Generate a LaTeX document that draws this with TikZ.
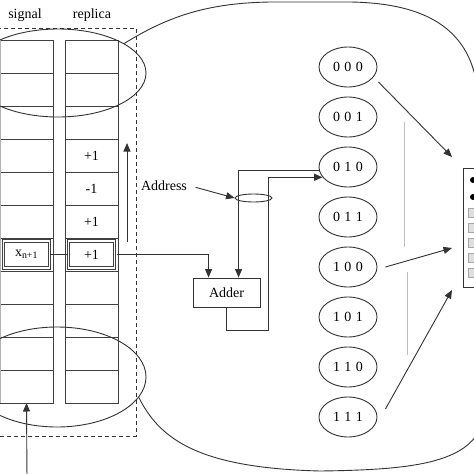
\documentclass[tikz,border=0pt]{standalone}
\usepackage{fontspec}
\setmainfont{Liberation Serif}
\usetikzlibrary{arrows.meta,calc,shapes.geometric}
\newcommand{\bg}{\hspace{4.5pt}}
\begin{document}
\begin{tikzpicture}[x=1pt,y=-1pt,
  line width=0.9pt, draw=black!80,
  every node/.style={font=\fontsize{14}{16}\selectfont},
  cell/.style={draw=black!75, minimum width=53pt, minimum height=33pt, inner sep=0pt, outer sep=0pt},
  dbox/.style={draw=black!75, double, double distance=1.4pt, minimum width=46pt, minimum height=27pt, inner sep=0pt},
  bitell/.style={draw=black!80, ellipse, minimum width=58pt, minimum height=40pt, inner sep=0pt},
  bigell/.style={draw=black!80, ellipse, inner sep=0pt},
  arr/.style={-{Triangle[length=8.5pt,width=7pt]}},
  cellnum/.style={inner sep=0pt}
]
\useasboundingbox (0,0) rectangle (474,474);
\clip (0,0) rectangle (474,474);
\fill[white] (0,0) rectangle (474,474);

% labels
\node (lsig) at (25,15) {signal};
\node (lrep) at (92,15) {replica};

% dashed frame
\draw[dash pattern=on 4pt off 3pt] (-5,28) rectangle (136,436);

% cells
\foreach \i in {1,...,11} {
  \node[cell] (s\i) at (26.5,{40+33*(\i-0.5)}) {};
  \node[cell] (r\i) at (91.5,{40+33*(\i-0.5)}) {};
}
\draw[gray!60, line width=2pt] (s1.north west) -- (s11.south west);

\node[cellnum] (n4) at (r4) {+1};
\node[cellnum] (n5) at (r5) {-1};
\node[cellnum] (n6) at (r6) {+1};
\node[dbox] (xn) at (s7) {x\textsubscript{n+1}};
\node[dbox] (rp) at (r7) {+1};
\draw (xn.east) -- (rp.west);

% group ellipses
\node[bigell, minimum width=176pt, minimum height=88pt] (topell) at (58,73) {};
\node[bigell, minimum width=178pt, minimum height=100pt] (botell) at (57,377) {};

% arrows by the columns
\coordinate (u1) at (127,242);
\coordinate (u2) at (127,143);
\draw[arr] (u1) -- (u2);
\coordinate (b0) at (27,480);
\draw[arr] (b0) -- (s11.south);

% adder
\node[draw=black!80, minimum width=67pt, minimum height=29pt, inner sep=0pt] (adder) at (226.5,292.5) {Adder};
\coordinate (a1) at ($(adder.north west)+(16,0)$);
\coordinate (a2) at ($(adder.north west)+(46,0)$);
\coordinate (a3) at ($(adder.south west)+(34,0)$);
\coordinate (turn) at (268,330);

% bit ellipses
\node[bitell] (e000) at (348,67)  {0\bg0\bg0};
\node[bitell] (e001) at (348,117) {0\bg0\bg1};
\node[bitell] (e010) at (348,167) {0\bg1\bg0};
\node[bitell] (e011) at (348,217) {0\bg1\bg1};
\node[bitell] (e100) at (348,267) {1\bg0\bg0};
\node[bitell] (e101) at (348,317) {1\bg0\bg1};
\node[bitell] (e110) at (348,367) {1\bg1\bg0};
\node[bitell] (e111) at (348,417) {1\bg1\bg1};

% connections
\draw[arr] ([xshift=2pt]rp.east) -| (a1);
\draw[arr] (e010.186) -| (a2);
\draw[arr] (a3) |- (turn) |- (e010.202);
\node[draw=black!80, ellipse, minimum width=37pt, minimum height=8pt, inner sep=0pt] (bus) at (253.5,198) {};
\node (addr) at (164,186) {Address};
\draw[arr, shorten <=5pt] (addr.east) -- (bus.west);

% grey separators
\draw[gray!50] (404,122) -- (404,247);
\draw[gray!50] (407,272) -- (407,355);

% right box
\node[draw=black!80, minimum width=40pt, minimum height=119pt, anchor=north west, inner sep=0pt] (rbox) at (463,168) {};
\fill[black] (473,180) circle (3pt);
\fill[black] (473,197) circle (3pt);
\foreach \yy in {213,228,243,258,273} {
  \draw[gray!70, fill=gray!25, line width=0.6pt] (468,\yy-4.5) rectangle (480,\yy+4.5);
}
\coordinate (t1) at (452,157);
\coordinate (t2) at (452,248);
\coordinate (t3) at (452,290);
\draw[arr] ([shift={(1,15)}]e000.east) -- (t1);
\draw[arr] ([xshift=8pt]e100.east) -- (t2);
\draw[arr] ([shift={(8,-8)}]e111.east) -- (t3);

% big enclosing curves
\draw (topell.24) .. controls (170,15) and (210,3) .. (270,2) -- (350,2)
      .. controls (420,3) and (465,25) .. (476,80);
\draw (botell.-14.5) .. controls (160,440) and (200,468) .. (320,471)
      .. controls (400,470) and (455,465) .. (476,436);
\end{tikzpicture}
\end{document}
